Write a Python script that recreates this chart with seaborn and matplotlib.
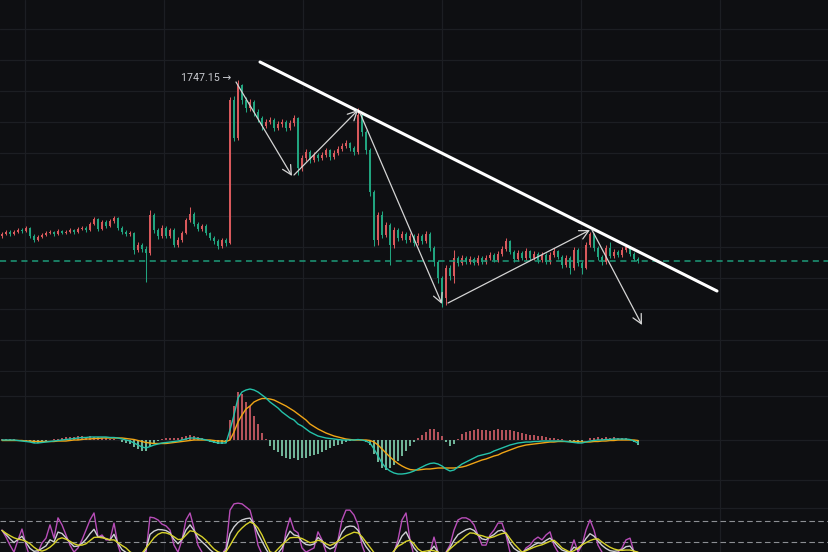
import numpy as np
import pandas as pd
import matplotlib
matplotlib.use("Agg")
import matplotlib.pyplot as plt
import seaborn as sns

# candle data (5m bars), open of each bar = previous close
first_open = 1669.0
closes = [1670, 1671, 1670, 1671, 1672, 1671.5, 1673, 1669, 1667, 1668.5,
          1669.5, 1670.5, 1671, 1670, 1671.5, 1670.5, 1671, 1672, 1671, 1672.5,
          1673, 1672, 1675, 1677.5, 1672.5, 1676, 1674, 1676.5, 1678, 1673,
          1671, 1670, 1670.5, 1662, 1664.5, 1662.5, 1660.5, 1679.5, 1672, 1669,
          1673, 1669, 1672, 1664.5, 1667, 1670.5, 1677, 1680, 1675, 1672.5,
          1674, 1670.5, 1668, 1666.5, 1664, 1667, 1665.5, 1737, 1718, 1744.5,
          1737, 1733, 1736, 1731, 1728, 1724, 1726, 1727, 1723, 1725,
          1726, 1723, 1725.5, 1728, 1703, 1708, 1711, 1707, 1709.5, 1708,
          1709.5, 1712, 1708.5, 1710.5, 1712.5, 1714, 1715.5, 1713, 1711, 1729.5,
          1721, 1712, 1691, 1667, 1679.5, 1669.5, 1674.5, 1664.5, 1672, 1668,
          1670, 1667, 1669, 1665.5, 1669, 1666.5, 1670, 1663, 1656, 1648,
          1638, 1653, 1649, 1658, 1655.5, 1658, 1656, 1657.5, 1655.5, 1658,
          1656, 1658, 1659.5, 1657, 1660, 1662.5, 1666.5, 1661, 1657.5, 1660.5,
          1658, 1661.5, 1658, 1660, 1657, 1659.5, 1656, 1659.5, 1661.5, 1658.5,
          1654.5, 1658, 1653, 1662, 1655.5, 1653, 1664.5, 1670, 1663, 1658.5,
          1656, 1663, 1659, 1661, 1659.5, 1662, 1663.5, 1660, 1657.5, 1656.5]
highs = [1671, 1672, 1672, 1672, 1673, 1673, 1674, 1673.5, 1670, 1669.5,
         1670.5, 1671.5, 1672, 1671.5, 1672.5, 1672, 1672, 1673, 1672.5, 1673.5,
         1674, 1674, 1676, 1678.5, 1678, 1677, 1677, 1677.5, 1679, 1678.5,
         1674, 1672, 1671.5, 1671, 1666, 1665.5, 1664, 1682, 1680.5, 1673,
         1674.5, 1674, 1673, 1673, 1668.5, 1671.5, 1678, 1683.5, 1681, 1676,
         1675, 1675, 1671, 1669, 1667.5, 1668, 1668, 1738.5, 1739, 1747.15,
         1745, 1738.5, 1737.5, 1737, 1732.5, 1729, 1727.5, 1728.5, 1728, 1726.5,
         1727.5, 1727, 1727, 1729.5, 1728.5, 1709.5, 1712.5, 1712, 1711, 1710.5,
         1711, 1713, 1712.5, 1712, 1714, 1715.5, 1717, 1716, 1714, 1733,
         1730, 1722, 1713, 1692, 1681, 1681.5, 1676, 1675.5, 1673.5, 1673,
         1671.5, 1671, 1670.5, 1670, 1670.5, 1670, 1671.5, 1671, 1664, 1657,
         1649, 1654.5, 1654.5, 1662, 1659, 1659.5, 1659, 1659, 1658.5, 1659.5,
         1659, 1659.5, 1661, 1660.5, 1661.5, 1664, 1668, 1667, 1662, 1662,
         1661.5, 1663, 1662, 1661.5, 1661, 1661, 1660.5, 1661, 1663, 1662,
         1659.5, 1659.5, 1659, 1663.5, 1663, 1656.5, 1666, 1671, 1670.5, 1664,
         1659.5, 1664.5, 1666, 1662.5, 1662, 1663.5, 1665, 1664, 1661, 1658.5]
lows = [1668, 1669.5, 1669, 1669.5, 1670.5, 1670.5, 1671, 1668, 1666, 1666.5,
        1668, 1669, 1670, 1669, 1669.5, 1670, 1670, 1670.5, 1670, 1670.5,
        1672, 1671, 1671.5, 1674.5, 1671.5, 1672, 1673, 1673.5, 1675.5, 1672,
        1670, 1669, 1669, 1660, 1661, 1661, 1646, 1659.5, 1670.5, 1667.5,
        1668, 1668, 1668, 1663.5, 1663.5, 1666, 1670, 1676, 1674, 1671.5,
        1671.5, 1669.5, 1667, 1665, 1662.5, 1663, 1664, 1665, 1716.5, 1717,
        1735, 1731, 1731.5, 1729, 1726, 1722, 1723, 1725, 1721.5, 1722,
        1723.5, 1721.5, 1722, 1724, 1699.5, 1701.5, 1706.5, 1705.5, 1706, 1706.5,
        1707, 1708.5, 1707, 1707.5, 1709.5, 1711.5, 1713, 1711.5, 1709.5, 1710,
        1719, 1710, 1689, 1664, 1664.5, 1668, 1668.5, 1654.5, 1663, 1666.5,
        1667, 1665.5, 1666, 1664, 1664.5, 1665, 1665.5, 1661.5, 1654, 1645.5,
        1633.5, 1634.5, 1647, 1645.5, 1654, 1654.5, 1655, 1655, 1654.5, 1654.5,
        1655, 1655, 1657, 1656, 1656, 1659, 1661.5, 1660, 1656, 1656.5,
        1657, 1657, 1657, 1657, 1655.5, 1656, 1655, 1655, 1658.5, 1657.5,
        1653, 1653.5, 1650, 1652, 1654, 1650, 1652.5, 1663.5, 1661.5, 1657,
        1654.5, 1655, 1658, 1658, 1658.5, 1658.5, 1661, 1659, 1656.5, 1655.5]

# MACD lines
dif = [0, 0, 0, 0, -0.25, -0.5, -0.75, -1, -1.5, -1.5,
       -1.25, -1, -0.75, -0.5, -0.25, 0, 0.25, 0.5, 0.75, 1,
       1.25, 1.25, 1.5, 1.5, 1.5, 1.5, 1.5, 1.25, 1.25, 1,
       0.5, 0, -0.5, -1.5, -2.5, -3.5, -4, -3.25, -2.5, -2,
       -1.5, -1.25, -1, -0.75, -0.5, 0, 0.5, 1, 1, 0.75,
       0.5, 0, -0.5, -1, -1.5, -1.5, -1.5, 5, 12.5, 21,
       24, 25, 25.5, 25, 24, 22.5, 21, 19, 17.5, 16,
       14, 12.5, 11, 10, 8, 7, 5.5, 4, 3, 2,
       1.5, 1, 0.75, 0.5, 0.25, 0, 0, 0, 0, 0.25,
       0, -0.5, -1.5, -4.5, -8, -11.5, -14, -15.5, -16.5, -17,
       -17, -16.75, -16.25, -15.5, -14.5, -13.5, -12.5, -11.75, -11.5, -12,
       -13, -14.5, -15.5, -15, -13.5, -12, -11, -10, -9, -8,
       -7.5, -7, -6.5, -5.5, -4.75, -4, -3.25, -2.5, -2, -1.5,
       -1.25, -1, -1, -0.75, -0.75, -0.5, -0.5, -0.5, -0.5, -0.5,
       -0.5, -0.75, -1, -1.25, -1.5, -1.5, -1, -0.5, -0.25, 0,
       0, 0.25, 0.25, 0.5, 0.5, 0.5, 0.5, 0.25, -0.5, -1.5]
dea = [-0.25, -0.25, -0.25, -0.25, -0.25, -0.25, -0.5, -0.5, -0.75, -0.75,
       -0.75, -0.75, -0.75, -0.75, -0.5, -0.5, -0.5, -0.25, 0, 0,
       0.25, 0.5, 0.5, 0.75, 0.75, 1, 1, 1, 1, 1,
       1, 0.75, 0.5, 0.25, -0.25, -0.75, -1.25, -1.5, -1.75, -1.75,
       -1.75, -1.75, -1.5, -1.25, -1, -0.75, -0.5, -0.25, 0, 0,
       0, 0, 0, -0.25, -0.5, -0.5, -0.75, 0, 4, 9,
       12.5, 15.5, 17, 19, 20, 20.75, 20.75, 20.5, 20, 19,
       18, 17, 15.75, 14.5, 13, 11.5, 10, 8, 6.75, 5.5,
       4.5, 3.5, 2.75, 2, 1.5, 1, 0.5, 0.25, 0, 0,
       0, 0, -0.25, -1, -2.5, -4.5, -6.5, -8.5, -10.25, -11.75,
       -13, -14, -14.75, -15, -15, -14.75, -14.5, -14.5, -14.25, -14,
       -14, -14, -14, -14, -13.75, -13.5, -13, -12.25, -11.5, -10.75,
       -10, -9.5, -8.75, -8, -7.5, -6.5, -5.75, -5, -4.25, -3.5,
       -3, -2.5, -2.25, -2, -1.75, -1.5, -1.25, -1, -1, -0.75,
       -0.75, -0.75, -0.75, -0.75, -0.75, -1, -1, -1, -0.75, -0.75,
       -0.5, -0.5, -0.25, -0.25, 0, 0, 0, 0, 0, -0.25]

kdj_j = [54, 34, 11, -9, 26, 57, 11, -25, -30, -9,
         17, 31, 69, 31, 89, 69, 40, 11, -9, 3,
         26, 54, 83, 103, 34, 40, 26, 26, 74, 11,
         -25, -35, -40, -45, -40, -30, -10, 91, 89, 83,
         71, 66, 54, 11, -9, 26, 83, 103, 60, 11,
         -9, -20, -30, -35, -30, -15, 3, 111, 129, 131,
         129, 120, 111, 69, 11, -15, -30, -40, -40, -35,
         -15, 49, 89, 54, 46, 3, -9, -3, 3, 49,
         26, -9, -20, -15, 26, 83, 111, 111, 97, 69,
         11, -20, -35, -45, -45, -40, -35, -25, -9, 26,
         83, 103, 26, -20, -30, -30, -25, -10, 34, -9,
         -25, -9, 11, 54, 83, 89, 89, 83, 69, 40,
         11, 11, 40, 54, 74, 74, 40, -9, -25, -25,
         -15, 3, 11, 26, 34, 26, 40, 49, 11, -9,
         -15, -15, -9, 26, -9, 11, 54, 83, 54, 11,
         -9, -20, -25, -20, -9, 3, 26, 31, -9, -15]
kdj_d = [53, 45, 38, 32, 28, 26, 22, 15, 5, -3,
         -6, -2, 5, 15, 28, 32, 28, 22, 15, 11,
         11, 15, 24, 33, 34, 32, 30, 26, 26, 18,
         10, 3, -8, -15, -18, -12, 3, 17, 32, 42,
         47, 46, 42, 35, 27, 28, 40, 52, 50, 42,
         35, 25, 12, 0, -8, -12, -8, 10, 30, 48,
         60, 70, 77, 72, 60, 40, 15, -8, -12, 0,
         12, 22, 32, 33, 33, 30, 24, 18, 20, 25,
         22, 15, 10, 15, 22, 30, 38, 43, 48, 46,
         35, 20, 5, -10, -20, -25, -25, -20, -5, 8,
         14, 22, 25, 15, 0, -8, -6, -4, -5, -9,
         -15, -12, 0, 10, 20, 28, 38, 46, 45, 40,
         38, 34, 32, 35, 40, 44, 46, 30, 15, 3,
         -9, -5, 0, 5, 9, 12, 17, 22, 25, 15,
         3, -3, -9, -5, 3, 12, 18, 24, 28, 29,
         20, 12, 5, 0, -3, -4, -3, -3, -6, -9]

# hand drawn annotations (bar index, price)
trend_line = [(64.5, 1756.0), (178.75, 1641.5)]
swing_arrows = [((58.5, 1746.0), (72.5, 1699.0)),
                ((73.0, 1699.5), (89.0, 1732.0)),
                ((89.5, 1730.5), (110.0, 1635.0)),
                ((111.5, 1635.5), (147.0, 1672.0)),
                ((147.5, 1672.0), (160.0, 1624.5))]

BG = "#0e0f12"
GRID = "#1c1e23"
UP = "#d9595c"
DOWN = "#21a47f"

sns.set_theme(style="dark", rc={"axes.facecolor": BG, "figure.facecolor": BG,
                                "grid.color": GRID, "axes.edgecolor": BG})
plt.rcParams["font.family"] = ["Roboto", "DejaVu Sans"]

df = pd.DataFrame({"close": closes, "high": highs, "low": lows})
df["open"] = [first_open] + closes[:-1]
df["up"] = df["close"] >= df["open"]
df["dif"] = dif
df["dea"] = dea
df["hist"] = 2 * (df["dif"] - df["dea"])
df["J"] = kdj_j
df["D"] = kdj_d
df["K"] = (df["J"] + 2 * df["D"]) / 3
idx = np.arange(len(df))

fig = plt.figure(figsize=(8.29, 5.52), dpi=100)
ax = fig.add_axes([0, 1 - 372 / 552, 1, 372 / 552])
ax_macd = fig.add_axes([0, 62 / 552, 1, 118 / 552])
ax_kdj = fig.add_axes([0, 0, 1, 62 / 552])

xticks = np.arange(5.75, 207, 34.75)
for a in (ax, ax_macd, ax_kdj):
    a.set_facecolor(BG)
    a.set_xlim(-0.5, 206.75)
    a.set_xticks(xticks)
    a.grid(True, color=GRID, lw=0.9)
    a.tick_params(length=0, labelbottom=False, labelleft=False)
    for s in a.spines.values():
        s.set_visible(False)
    a.set_axisbelow(True)

# main price panel
ax.set_ylim(1601, 1787)
ax.set_yticks(np.arange(1772.5, 1600, -15.55))
colors = np.where(df["up"], UP, DOWN)
ax.vlines(idx, df["low"], df["high"], color=colors, lw=0.75)
body = (df["close"] - df["open"]).abs().clip(lower=0.5)
ax.bar(idx, body, bottom=df[["open", "close"]].min(axis=1), width=0.6, color=colors, linewidth=0)

ax.axhline(closes[-1], color="#1d9b7a", lw=1.1, ls=(0, (4, 3)))

(x0, y0), (x1, y1) = trend_line
ax.plot([x0, x1], [y0, y1], color="white", lw=2.2, solid_capstyle="round")
for start, end in swing_arrows:
    ax.annotate("", xy=end, xytext=start,
                arrowprops=dict(arrowstyle="->,head_length=0.55,head_width=0.28",
                                color="#d4d4d4", lw=0.9, shrinkA=0, shrinkB=0))

peak = int(df["high"].idxmax())
ax.text(peak - 1.7, df["high"].max() + 0.8, f"{df['high'].max():.2f} \u2192", ha="right", va="center",
        color="#c9cbd0", fontsize=7.7)

# MACD panel
ax_macd.set_ylim(-25, 34)
ax_macd.set_yticks([22, 0, -20])
hist_colors = np.where(df["hist"] >= 0, "#c75a63", "#7cc7a8")
ax_macd.bar(idx, df["hist"], width=0.3, color=hist_colors, linewidth=0, alpha=0.9)
sns.lineplot(x=idx, y=df["dea"], ax=ax_macd, color="#f0a516", lw=1.0)
sns.lineplot(x=idx, y=df["dif"], ax=ax_macd, color="#25c2aa", lw=1.0)

# KDJ panel
ax_kdj.set_ylim(-8.6, 168.6)
ax_kdj.set_yticks([117])
for lvl in (80, 20):
    ax_kdj.axhline(lvl, color="#8d8f94", lw=0.8, ls=(0, (5, 3)))
sns.lineplot(x=idx, y=df["J"], ax=ax_kdj, color="#b84db8", lw=1.0)
sns.lineplot(x=idx, y=df["K"], ax=ax_kdj, color="#cfd0d4", lw=1.0)
sns.lineplot(x=idx, y=df["D"], ax=ax_kdj, color="#d8d22a", lw=1.0)

for a in (ax, ax_macd, ax_kdj):
    a.set_xlabel("")
    a.set_ylabel("")

fig.savefig("out.png", dpi=100, facecolor=BG)
